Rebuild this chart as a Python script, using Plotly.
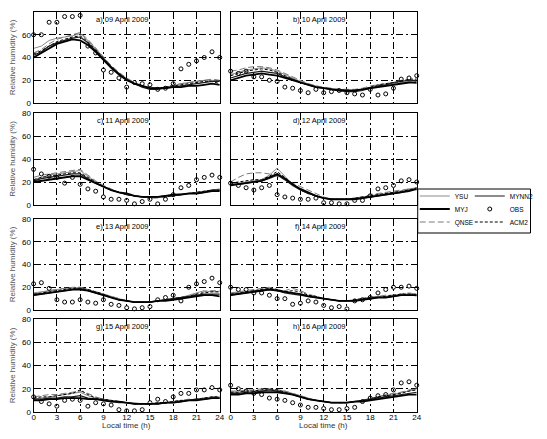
import plotly.graph_objects as go

hours = list(range(25))

panel_titles = ["a) 09 April 2009", "b) 10 April 2009", "c) 11 April 2009", "d) 12 April 2009",
                "e) 13 April 2009", "f) 14 April 2009", "g) 15 April 2009", "h) 16 April 2009"]

x_ticks = [0, 3, 6, 9, 12, 15, 18, 21, 24]
y_ticks = [0, 20, 40, 60, 80]

# observed relative humidity (%), one row per panel a..h
OBS = [
    [60, 60, 71, 71, 76, 76, 77, 50, 44, 29, 27, 22, 14, 18, 17, 16, 12, 13, 17, 30, 34, 37, 40, 45, 40],
    [28, 26, 28, 23, 23, 20, 19, 14, 13, 11, 9, 12, 9, 10, 11, 9, 8, 7, 12, 7, 8, 13, 21, 22, 24],
    [31, 27, 25, 24, 19, 24, 18, 14, 12, 7, 5, 5, 4, 1, 3, 5, 1, 5, 9, 15, 17, 22, 24, 26, 24],
    [19, 17, 15, 13, 15, 17, 9, 7, 6, 5, 5, 6, 2, 2, 1, 1, 4, 4, 8, 14, 15, 17, 21, 22, 20],
    [23, 24, 19, 9, 7, 7, 9, 7, 6, 9, 5, 4, 2, 1, 2, 3, 9, 11, 13, 8, 20, 23, 25, 28, 24],
    [20, 18, 18, 15, 15, 13, 10, 10, 5, 6, 8, 7, 4, 2, 3, 1, 8, 9, 11, 15, 18, 20, 20, 21, 19],
    [13, 9, 7, 5, 10, 11, 10, 5, 8, 7, 6, 2, 1, 1, 2, 8, 11, 9, 13, 16, 16, 19, 19, 21, 19],
    [23, 20, 18, 16, 15, 12, 11, 10, 8, 6, 4, 4, 3, 2, 2, 3, 4, 9, 12, 14, 15, 19, 25, 26, 23],
]

YSU = [
    [48, 50, 55, 57, 58, 59, 61, 55, 48, 40, 32, 26, 21, 17, 14, 13, 13, 14, 15, 17, 18, 19, 20, 20, 19],
    [25, 27, 29, 30, 31, 30, 28, 25, 22, 19, 17, 15, 13, 12, 12, 11, 11, 12, 13, 14, 16, 17, 18, 19, 17],
    [22, 24, 26, 27, 28, 29, 30, 25, 20, 16, 13, 11, 9, 8, 7, 7, 7, 8, 9, 10, 10, 11, 12, 13, 13],
    [18, 19, 20, 21, 22, 26, 32, 25, 18, 13, 10, 8, 6, 5, 5, 5, 6, 7, 8, 9, 10, 11, 12, 14, 15],
    [15, 16, 17, 18, 19, 19, 20, 18, 16, 14, 12, 10, 8, 7, 7, 7, 8, 9, 10, 11, 13, 15, 17, 16, 16],
    [14, 15, 16, 17, 18, 19, 18, 16, 15, 14, 13, 12, 10, 9, 8, 8, 9, 10, 11, 12, 12, 13, 14, 14, 12],
    [11, 12, 13, 14, 15, 16, 17, 14, 12, 11, 10, 9, 8, 8, 7, 7, 8, 8, 9, 10, 10, 11, 12, 13, 13],
    [17, 17, 18, 18, 19, 19, 19, 18, 16, 14, 12, 10, 9, 8, 8, 8, 9, 10, 11, 13, 14, 15, 17, 18, 20],
]

MYJ = [
    [40, 44, 48, 52, 54, 56, 55, 51, 45, 38, 31, 25, 20, 17, 15, 13, 13, 13, 14, 14, 15, 15, 16, 17, 16],
    [20, 22, 24, 25, 26, 25, 24, 22, 20, 18, 16, 14, 13, 12, 11, 11, 11, 12, 13, 14, 15, 16, 17, 18, 18],
    [20, 21, 22, 23, 24, 25, 25, 22, 19, 16, 13, 11, 10, 8, 7, 7, 7, 8, 9, 9, 10, 10, 11, 12, 12],
    [17, 18, 19, 20, 21, 24, 27, 23, 18, 14, 11, 8, 6, 5, 5, 5, 5, 6, 7, 8, 9, 10, 11, 12, 14],
    [13, 14, 15, 16, 17, 18, 18, 17, 15, 13, 11, 9, 8, 7, 7, 7, 8, 8, 9, 10, 11, 12, 13, 13, 12],
    [13, 14, 15, 16, 17, 18, 17, 16, 15, 14, 12, 11, 10, 9, 8, 8, 8, 9, 10, 11, 11, 12, 13, 13, 13],
    [10, 10, 11, 11, 12, 12, 12, 11, 11, 10, 9, 9, 8, 7, 7, 7, 7, 8, 8, 9, 10, 10, 11, 12, 12],
    [15, 15, 16, 16, 17, 17, 17, 16, 15, 13, 11, 10, 9, 8, 8, 8, 9, 9, 10, 11, 12, 13, 14, 15, 15],
]

QNSE = [
    [44, 47, 52, 56, 58, 60, 62, 56, 48, 40, 33, 27, 22, 18, 15, 14, 13, 14, 16, 17, 18, 19, 20, 21, 20],
    [28, 29, 31, 32, 32, 31, 29, 26, 23, 20, 17, 15, 14, 13, 12, 12, 12, 13, 15, 16, 17, 18, 20, 20, 19],
    [24, 26, 27, 28, 29, 30, 31, 26, 21, 17, 14, 11, 9, 8, 7, 6, 6, 7, 8, 9, 10, 11, 12, 13, 14],
    [20, 24, 27, 28, 28, 27, 25, 22, 19, 16, 13, 10, 7, 5, 5, 5, 6, 7, 9, 10, 11, 12, 13, 14, 13],
    [14, 15, 17, 18, 19, 20, 20, 18, 16, 14, 12, 10, 8, 7, 7, 7, 8, 9, 10, 11, 12, 14, 16, 17, 17],
    [15, 16, 17, 18, 19, 20, 18, 17, 19, 17, 14, 12, 10, 9, 8, 8, 9, 10, 11, 12, 13, 13, 14, 15, 14],
    [13, 14, 15, 15, 16, 17, 18, 16, 13, 11, 10, 9, 8, 7, 7, 7, 8, 8, 9, 10, 11, 11, 12, 13, 13],
    [18, 18, 19, 19, 20, 20, 19, 18, 16, 14, 12, 10, 9, 8, 8, 8, 9, 10, 12, 13, 15, 16, 17, 19, 20],
]

MYNN2 = [
    [42, 45, 50, 53, 55, 57, 58, 53, 46, 39, 32, 26, 21, 17, 14, 12, 12, 13, 14, 15, 16, 17, 18, 19, 19],
    [22, 24, 26, 27, 28, 27, 26, 23, 21, 18, 16, 14, 13, 12, 11, 10, 10, 11, 13, 15, 16, 18, 19, 20, 20],
    [21, 23, 24, 25, 26, 27, 27, 23, 19, 16, 13, 11, 9, 8, 7, 7, 7, 8, 8, 9, 10, 10, 11, 13, 13],
    [18, 18, 19, 20, 21, 23, 26, 22, 17, 13, 10, 8, 6, 5, 5, 5, 5, 6, 7, 8, 9, 10, 11, 13, 14],
    [13, 14, 15, 16, 17, 18, 19, 17, 15, 13, 11, 9, 8, 7, 7, 7, 8, 9, 10, 11, 12, 13, 14, 14, 14],
    [13, 14, 15, 16, 17, 18, 17, 15, 14, 13, 12, 11, 10, 9, 8, 8, 8, 9, 10, 11, 11, 12, 13, 13, 13],
    [11, 11, 12, 12, 13, 13, 14, 12, 11, 10, 9, 8, 8, 7, 7, 7, 7, 8, 8, 9, 10, 11, 11, 12, 12],
    [16, 16, 17, 17, 18, 19, 18, 17, 15, 13, 11, 10, 9, 8, 8, 8, 9, 10, 11, 12, 13, 14, 15, 16, 17],
]

ACM2 = [
    [43, 46, 50, 54, 56, 58, 59, 54, 47, 39, 32, 26, 21, 17, 15, 13, 13, 14, 15, 16, 17, 18, 19, 19, 17],
    [24, 26, 28, 29, 30, 29, 27, 24, 21, 18, 16, 14, 13, 12, 12, 11, 11, 12, 14, 16, 17, 18, 19, 21, 21],
    [22, 24, 25, 26, 27, 28, 28, 24, 20, 16, 13, 11, 9, 8, 7, 7, 7, 7, 8, 9, 10, 11, 12, 13, 13],
    [19, 20, 21, 22, 22, 25, 29, 24, 18, 13, 10, 8, 6, 5, 5, 5, 6, 7, 8, 9, 10, 11, 12, 13, 15],
    [14, 15, 16, 17, 18, 19, 19, 18, 16, 14, 11, 9, 8, 7, 7, 7, 8, 9, 10, 11, 12, 14, 15, 16, 16],
    [14, 15, 16, 17, 18, 19, 18, 16, 17, 16, 13, 12, 10, 9, 8, 8, 9, 10, 11, 11, 12, 13, 14, 14, 14],
    [12, 13, 13, 14, 15, 16, 19, 15, 12, 11, 10, 9, 8, 7, 7, 7, 8, 8, 9, 10, 10, 11, 12, 13, 13],
    [17, 17, 18, 18, 19, 20, 19, 17, 15, 13, 11, 10, 9, 8, 8, 8, 9, 10, 11, 13, 14, 15, 16, 18, 19],
]

# the page body keeps an 8px margin on every side, so the figure is 16px smaller than the window
OFF = 8
W, H = 547 - 2 * OFF, 439 - 2 * OFF
FONT = "Arial, Liberation Sans, sans-serif"


def px_x(p):
    return (p - OFF) / W


def px_y(p):
    return 1 - (p - OFF) / H


# pixel boxes of the panels (window coords) -> paper fractions
col_px = [(34, 223), (234, 423)]
row_px = [(12, 103), (113, 205), (219, 310), (319, 412)]
col_dom = [[px_x(a), px_x(b)] for a, b in col_px]
row_dom = [[px_y(b), px_y(a)] for a, b in row_px]

# name, data, line style, legend, rank, entry width (second legend column is wider)
models = [
    ("YSU", YSU, dict(color="#8a8a8a", width=1), "legend", 1, None),
    ("QNSE", QNSE, dict(color="#7a7a7a", width=1, dash="6px,3px"), "legend3", 1, None),
    ("ACM2", ACM2, dict(color="black", width=1, dash="3px,2px"), "legend3", 2, 24),
    ("MYNN2", MYNN2, dict(color="#1a1a1a", width=1.2), "legend", 2, 24),
    ("MYJ", MYJ, dict(color="black", width=1.8), "legend2", 1, None),
]

fig = go.Figure()

for i in range(8):
    r, c = divmod(i, 2)
    suffix = "" if i == 0 else str(i + 1)
    xa, ya = "x" + suffix, "y" + suffix
    for name, data, style, leg, rank, lw in models:
        fig.add_trace(go.Scatter(x=hours, y=data[i], mode="lines", name=name, line=style,
                                 xaxis=xa, yaxis=ya, legend=leg, legendrank=rank,
                                 legendwidth=lw, showlegend=(i == 0)))
    fig.add_trace(go.Scatter(x=hours, y=OBS[i], mode="markers", name="OBS",
                             marker=dict(symbol="circle-open", size=4, color="black",
                                         line=dict(width=1)),
                             cliponaxis=False, xaxis=xa, yaxis=ya, legend="legend2",
                             legendrank=2, legendwidth=24, showlegend=(i == 0)))

    fig.layout["xaxis" + suffix] = dict(
        domain=col_dom[c], range=[0, 24], tickvals=x_ticks, showticklabels=(r == 3),
        showgrid=True, gridcolor="black", gridwidth=0.8, griddash="7px,3px,2px,3px",
        showline=True, linecolor="black", linewidth=1, mirror=True, zeroline=False,
        ticks="", anchor=ya, automargin=False, ticklabelstandoff=-3,
        tickfont=dict(family=FONT, size=8, color="black"))
    fig.layout["yaxis" + suffix] = dict(
        domain=row_dom[r], range=[0, 80], tickvals=y_ticks, showticklabels=(c == 0),
        showgrid=True, gridcolor="black", gridwidth=0.8, griddash="7px,3px,2px,3px",
        showline=True, linecolor="black", linewidth=1, mirror=True, zeroline=False,
        ticks="", anchor=xa, automargin=False,
        tickfont=dict(family=FONT, size=8, color="black"),
        title=dict(text="Relative humidity (%)" if c == 0 else "", standoff=8,
                   font=dict(family=FONT, size=8, color="#555555")))

    fig.add_annotation(text=panel_titles[i], xref=xa, x=11.5, yref=f"{ya} domain", y=1,
                       yanchor="top", yshift=-1, showarrow=False,
                       font=dict(family=FONT, size=7.5, color="black"))
    if r == 3:
        fig.add_annotation(text="Local time (h)", xref=f"{xa} domain", x=0.5,
                           yref="paper", y=px_y(425.5), yanchor="middle", borderpad=0,
                           showarrow=False,
                           font=dict(family=FONT, size=8, color="#333333"))

leg_common = dict(orientation="h", xanchor="left", yanchor="middle", x=px_x(421),
                  entrywidth=10, bgcolor="rgba(0,0,0,0)", borderwidth=0,
                  font=dict(family=FONT, size=6.5, color="black"))
fig.update_layout(
    legend=dict(leg_common, y=px_y(196)),
    legend2=dict(leg_common, y=px_y(209)),
    legend3=dict(leg_common, y=px_y(222)),
)

# legend frame
fig.add_shape(type="rect", xref="paper", yref="paper", x0=px_x(424), x1=px_x(538.5),
              y0=px_y(233), y1=px_y(189), line=dict(color="black", width=1))

fig.update_layout(width=W, height=H, margin=dict(l=0, r=0, t=0, b=0),
                  template="none", paper_bgcolor="white", plot_bgcolor="white",
                  font=dict(family=FONT))

fig.write_html("out.html")
